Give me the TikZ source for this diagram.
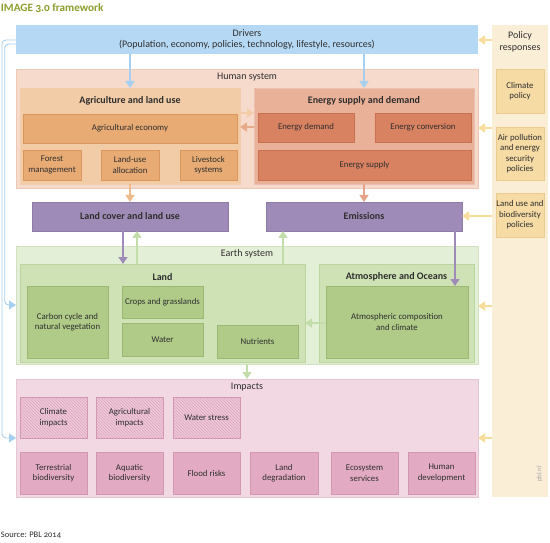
\documentclass[tikz,border=0pt]{standalone}
\usepackage{fontspec}
\setmainfont{Carlito}[Numbers=OldStyle]
\usetikzlibrary{arrows.meta,patterns}
\definecolor{txt}{HTML}{2E2E2E}
\definecolor{ttl}{HTML}{8E9C2C}
\definecolor{drv}{HTML}{B5D8F4}
\definecolor{drvln}{HTML}{A6CFF0}
\definecolor{pol}{HTML}{FBEED7}
\definecolor{polbox}{HTML}{F6DBA5}
\definecolor{polbd}{HTML}{E9CC8E}
\definecolor{polar}{HTML}{F8DD9A}
\definecolor{hum}{HTML}{F6DBCC}
\definecolor{humbd}{HTML}{EDC8B4}
\definecolor{agr}{HTML}{F2CCA6}
\definecolor{agrsub}{HTML}{E8AB74}
\definecolor{agrbd}{HTML}{D9975E}
\definecolor{ene}{HTML}{E9B298}
\definecolor{enesub}{HTML}{D98262}
\definecolor{enebd}{HTML}{C87050}
\definecolor{pur}{HTML}{9F8BB8}
\definecolor{purbd}{HTML}{8F7BA8}
\definecolor{ear}{HTML}{E4EFD7}
\definecolor{earbd}{HTML}{D2E2C0}
\definecolor{lnd}{HTML}{CFE2B6}
\definecolor{lndbd}{HTML}{BCD4A0}
\definecolor{lndsub}{HTML}{AFCB87}
\definecolor{lndsubbd}{HTML}{9BB872}
\definecolor{grar}{HTML}{C2DCAA}
\definecolor{imp}{HTML}{F2D8E3}
\definecolor{impbd}{HTML}{E6C6D4}
\definecolor{impbox}{HTML}{E3ABC3}
\definecolor{impboxbd}{HTML}{D397B1}
\definecolor{hatchbg}{HTML}{EDC8D8}
\definecolor{hatchln}{HTML}{E0A6C0}
\definecolor{orar}{HTML}{F0BA8A}
\definecolor{enar}{HTML}{E5A48A}
\definecolor{agar}{HTML}{F2CDA8}
\definecolor{egar}{HTML}{E7AB8A}
\begin{document}
\begin{tikzpicture}[x=1pt,y=-1pt,
  every node/.style={inner sep=0pt, outer sep=0pt, align=center, text=txt, font=\fontsize{8.8}{10.5}\selectfont},
  wh/.style 2 args={minimum width=#1pt, minimum height=#2pt},
  boxt/.style={font=\bfseries\fontsize{10}{12}\selectfont},
  sect/.style={font=\fontsize{10}{12}\selectfont},
  arr/.style={line width=1.4pt, -{Triangle[width=9pt,length=7pt]}},
  hatch/.style={preaction={fill=hatchbg}, pattern=north west lines, pattern color=hatchln, draw=impboxbd, line width=0.4pt}
]
\useasboundingbox (0,0) rectangle (550,543);

% title
\node[anchor=west, text=ttl, font=\bfseries\fontsize{11.2}{13}\selectfont] (title) at (1,8) {IMAGE 3.0 framework};

% policy column
\node[fill=pol, wh={56}{472}] (policy) at (520,261) {};
\node[sect] (poltxt) at (520,42) {Policy\\responses};
\node[fill=polbox, draw=polbd, line width=0.4pt, wh={48}{44}] (climpol) at (520,91) {Climate\\policy};
\node[fill=polbox, draw=polbd, line width=0.4pt, wh={48}{53}] (airpol) at (520,153.5) {Air pollution\\and energy\\security\\policies};
\node[fill=polbox, draw=polbd, line width=0.4pt, wh={48}{44}] (landpol) at (520,215) {Land use and\\biodiversity\\policies};
\node[rotate=90, text=black!35, font=\fontsize{6.8}{7}\selectfont] (pbl) at (539.5,474) {pbl.nl};

% drivers
\node[fill=drv, wh={462}{29}] (drivers) at (247,39.5) {};
\node (drvtxt) at (247,39.5) {\fontsize{10}{12}\selectfont Drivers\\\fontsize{10}{12}\selectfont(Population, economy, policies, technology, lifestyle, resources)};

% human system
\node[fill=hum, draw=humbd, line width=0.4pt, wh={462}{119}] (human) at (247,128.5) {};
\node[sect] (humtxt) at (247,77) {Human system};
\node[fill=agr, draw=agrsub!60, line width=0.4pt, wh={220}{96}] (agri) at (130,136) {};
\node[boxt] (agritxt) at (130,100.5) {Agriculture and land use};
\node[fill=agrsub, draw=agrbd, line width=0.4pt, wh={214}{29}] (agecon) at (130,128.5) {Agricultural economy};
\node[fill=agrsub, draw=agrbd, line width=0.4pt, wh={58}{30}] (forest) at (52,165) {Forest\\management};
\node[fill=agrsub, draw=agrbd, line width=0.4pt, wh={58}{30}] (luall) at (130,165) {Land-use\\allocation};
\node[fill=agrsub, draw=agrbd, line width=0.4pt, wh={57}{30}] (livest) at (208.5,165) {Livestock\\systems};
\node[fill=ene, draw=enesub!50, line width=0.4pt, wh={220}{96}] (energy) at (364,136) {};
\node[boxt] (enetxt) at (364,100.5) {Energy supply and demand};
\node[fill=enesub, draw=enebd, line width=0.4pt, wh={96}{29}] (edem) at (306,127.5) {Energy demand};
\node[fill=enesub, draw=enebd, line width=0.4pt, wh={96}{29}] (econv) at (423,127.5) {Energy conversion};
\node[fill=enesub, draw=enebd, line width=0.4pt, wh={213}{30}] (esup) at (364.5,165) {Energy supply};

% land cover / emissions
\node[fill=pur, draw=purbd, line width=0.4pt, wh={196}{29}, boxt] (landcover) at (130,216.5) {Land cover and land use};
\node[fill=pur, draw=purbd, line width=0.4pt, wh={196}{29}, boxt] (emis) at (364,216.5) {Emissions};

% earth system
\node[fill=ear, draw=earbd, line width=0.4pt, wh={462}{118}] (earth) at (247,305) {};
\node[sect] (eartxt) at (247,254) {Earth system};
\node[fill=lnd, draw=lndbd, line width=0.4pt, wh={285}{98}] (land) at (162.5,313) {};
\node[boxt] (landtxt) at (162.5,277) {Land};
\node[fill=lndsub, draw=lndsubbd, line width=0.4pt, wh={81}{72}] (carbon) at (67.5,322) {Carbon cycle and\\natural vegetation};
\node[fill=lndsub, draw=lndsubbd, line width=0.4pt, wh={81}{32}] (crops) at (162.5,302) {Crops and grasslands};
\node[fill=lndsub, draw=lndsubbd, line width=0.4pt, wh={81}{33}] (water) at (162.5,339.5) {Water};
\node[fill=lndsub, draw=lndsubbd, line width=0.4pt, wh={81}{33}] (nutr) at (257.5,341.5) {Nutrients};
\node[fill=lnd, draw=lndbd, line width=0.4pt, wh={155}{98}] (atmo) at (396.5,313) {};
\node[boxt] (atmotxt) at (396.5,277) {Atmosphere and Oceans};
\node[fill=lndsub, draw=lndsubbd, line width=0.4pt, wh={142}{72}] (atmocomp) at (397,322) {Atmospheric composition\\and climate};

% impacts
\node[fill=imp, draw=impbd, line width=0.4pt, wh={462}{118}] (impacts) at (247,438) {};
\node[sect] (imptxt) at (247,387) {Impacts};
\node[hatch, wh={67}{41}] (climimp) at (53.5,417.5) {Climate\\impacts};
\node[hatch, wh={67}{41}] (agimp) at (129.5,417.5) {Agricultural\\impacts};
\node[hatch, wh={67}{41}] (wstress) at (206.5,417.5) {Water stress};
\node[fill=impbox, draw=impboxbd, line width=0.4pt, wh={67}{42}] (terr) at (53.5,473) {Terrestrial\\biodiversity};
\node[fill=impbox, draw=impboxbd, line width=0.4pt, wh={67}{42}] (aqua) at (129.5,473) {Aquatic\\biodiversity};
\node[fill=impbox, draw=impboxbd, line width=0.4pt, wh={67}{42}] (flood) at (206.5,473) {Flood risks};
\node[fill=impbox, draw=impboxbd, line width=0.4pt, wh={68}{42}] (ldeg) at (284,473) {Land\\degradation};
\node[fill=impbox, draw=impboxbd, line width=0.4pt, wh={67}{42}] (ecos) at (364.5,473) {Ecosystem\\services};
\node[fill=impbox, draw=impboxbd, line width=0.4pt, wh={67}{42}] (humdev) at (441.5,473) {Human\\development};

% source
\node[anchor=west, font=\fontsize{8.5}{10}\selectfont] (source) at (1,535) {Source: PBL 2014};

% arrows: drivers
\draw[arr, drvln] (drivers.south -| agri.north) -- (agri.north);
\draw[arr, drvln] (drivers.south -| energy.north) -- (energy.north);
% agri <-> energy
\draw[arr, agar] (agri.east |- 0,113) -- (energy.west |- 0,113);
\draw[arr, egar] (energy.west |- 0,127) -- (agri.east |- 0,127);
% down to land cover / emissions
\draw[arr, orar] (agri.south) -- (landcover.north);
\draw[arr, enar] (energy.south) -- (emis.north);
% land cover <-> land
\draw[arr, pur] (landcover.south -| 123,0) -- (land.north -| 123,0);
\draw[arr, grar] (land.north -| 137,0) -- (landcover.south -| 137,0);
\draw[arr, grar] (land.north -| 283,0) -- (emis.south -| 283,0);
\draw[arr, pur] (emis.south -| 455,0) -- (atmocomp.north -| 455,0);
\draw[arr, grar] (atmocomp.west |- 0,323) -- (land.east |- 0,323);
\draw[arr, grar] (earth.south) -- (impacts.north);
% policy arrows
\draw[arr, polar] (policy.west |- 0,40) -- (drivers.east |- 0,40);
\draw[arr, polar] (policy.west |- 0,128) -- (human.east |- 0,128);
\draw[arr, polar] (policy.west |- 0,216) -- (emis.east |- 0,216);
\draw[arr, polar] (policy.west |- 0,306) -- (earth.east |- 0,306);
\draw[arr, polar] (policy.west |- 0,438) -- (impacts.east |- 0,438);
% left feedback lines
\draw[drvln, line width=0.9pt, rounded corners=4pt, -{Triangle[width=9pt,length=7pt]}] (drivers.west |- 0,40) -- (2,40) -- (2,438) -- (impacts.west |- 0,438);
\draw[drvln, line width=0.9pt, rounded corners=4pt, -{Triangle[width=9pt,length=7pt]}] (drivers.west |- 0,44) -- (4.7,44) -- (4.7,305) -- (earth.west |- 0,305);
\end{tikzpicture}
\end{document}
